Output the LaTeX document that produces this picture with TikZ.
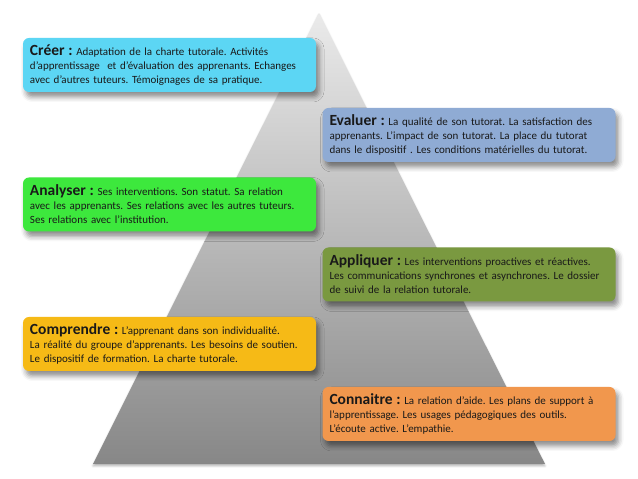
\documentclass[tikz,border=0pt]{standalone}
\usepackage{fontspec}
\setmainfont{Carlito}
\usepackage{xcolor}
\usepackage{tikz}
\usetikzlibrary{positioning}
\usetikzlibrary{shadows.blur}
\frenchspacing
\definecolor{creercol}{RGB}{92,214,244}
\definecolor{evaluercol}{RGB}{143,171,212}
\definecolor{analysercol}{RGB}{61,232,61}
\definecolor{appliquercol}{RGB}{122,153,64}
\definecolor{comprendrecol}{RGB}{246,186,22}
\definecolor{connaitrecol}{RGB}{241,151,77}
\tikzset{level/.style={rounded corners=6pt, text width=279pt, minimum height=54pt, inner xsep=7pt, inner ysep=0pt, align=left, text=black!90, font=\fontsize{11}{14}\selectfont, blur shadow={shadow xshift=3pt, shadow yshift=-5pt, shadow blur radius=5pt, shadow opacity=45}}}
\newcommand{\titre}[1]{{\fontsize{15.5}{14}\selectfont\bfseries #1}}

\begin{document}
\begin{tikzpicture}[x=1pt, y=1pt, node distance={139.5pt}]
		\useasboundingbox (0,0) rectangle (638,479);
		% pyramide
		\path[top color=black!8, bottom color=black!47, blur shadow={shadow xshift=0pt, shadow yshift=-2pt, shadow blur radius=2pt, shadow opacity=30}] (93,15) -- (319,466) -- (545,15) -- cycle;
		
		\node[level, fill=creercol] (creer) at (169.5,414) {\titre{Créer :} Adaptation de la charte tutorale. Activités\\ d’apprentissage \ et d’évaluation des apprenants. Echanges\\ avec d’autres tuteurs. Témoignages de sa pratique.};
		\node[level, fill=analysercol] (analyser) [below of=creer] {\titre{Analyser :} Ses interventions. Son statut. Sa relation\\ avec les apprenants. Ses relations avec les autres tuteurs.\\ Ses relations avec l’institution.};
		\node[level, fill=comprendrecol] (comprendre) [below of=analyser] {\titre{Comprendre :} L’apprenant dans son individualité.\\ La réalité du groupe d’apprenants. Les besoins de soutien.\\ Le dispositif de formation. La charte tutorale.};
		
		\node[level, fill=evaluercol] (evaluer) at (469,344) {\titre{Evaluer :} La qualité de son tutorat. La satisfaction des\\ apprenants. L’impact de son tutorat. La place du tutorat\\ dans le dispositif . Les conditions matérielles du tutorat.};
		\node[level, fill=appliquercol] (appliquer) [below of=evaluer] {\titre{Appliquer :} Les interventions proactives et réactives.\\ Les communications synchrones et asynchrones. Le dossier\\ de suivi de la relation tutorale.};
		\node[level, fill=connaitrecol] (connaitre) [below of=appliquer] {\titre{Connaitre :} La relation d’aide. Les plans de support à\\ l’apprentissage. Les usages pédagogiques des outils.\\ L’écoute active. L’empathie.};
	\end{tikzpicture}
\end{document}
